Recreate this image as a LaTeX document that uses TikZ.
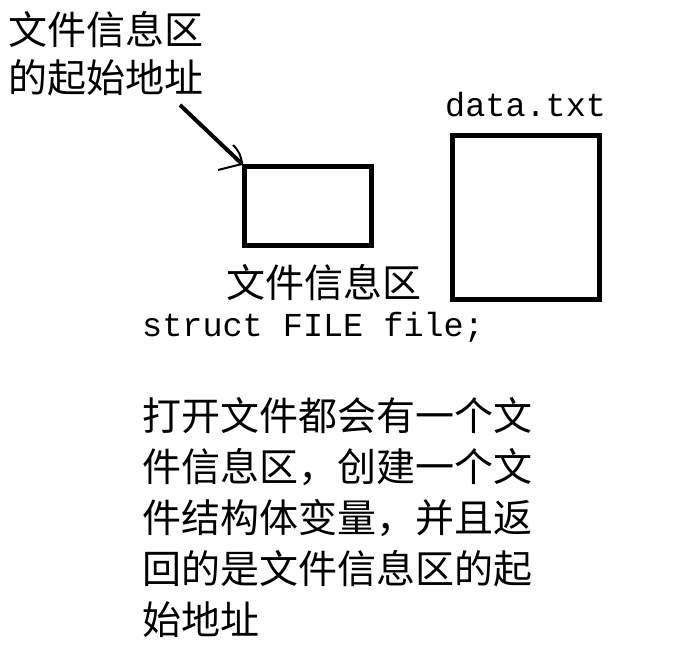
\documentclass[tikz,border=0pt]{standalone}
\usepackage{fontspec}
\setmainfont{Liberation Serif}
\newfontfamily\cjk{Noto Sans CJK SC}
\newfontfamily\mono{Liberation Mono}
\begin{document}
\begin{tikzpicture}[x=1pt,y=-1pt,
  box/.style={draw,line width=5pt,inner sep=0},
  zh/.style={font=\cjk\fontsize{39}{51}\selectfont,inner sep=0,anchor=west,align=left},
  code/.style={font=\mono\fontsize{33.5}{40}\selectfont,inner sep=0,anchor=west}]
\useasboundingbox (0,0) rectangle (699,655);
\node[zh,font=\cjk\fontsize{39}{48}\selectfont] (lbl) at (8,54) {文件信息区\\的起始地址};
\node[box,minimum width=127pt,minimum height=79pt,anchor=north west] (fb) at (242,164) {};
\node[box,minimum width=147pt,minimum height=164pt,anchor=north west] (db) at (450,133) {};
\node[code] (dt) at (445,105) {data.txt};
\node[zh] (fl) at (226,283) {文件信息区};
\node[code] (st) at (142,327) {struct FILE file;};
\node[zh] (para) at (142,518) {打开文件都会有一个文\\件信息区，创建一个文\\件结构体变量，并且返\\回的是文件信息区的起\\始地址};
\coordinate (a0) at (180,105);
\coordinate (t0) at (218,170);
\draw[line width=4pt] (a0) -- (fb.north west);
\draw[line width=2pt] (t0) -- (fb.north west);
\draw[line width=2pt] (233,145) to[bend left=20] (fb.north west);
\end{tikzpicture}
\end{document}
